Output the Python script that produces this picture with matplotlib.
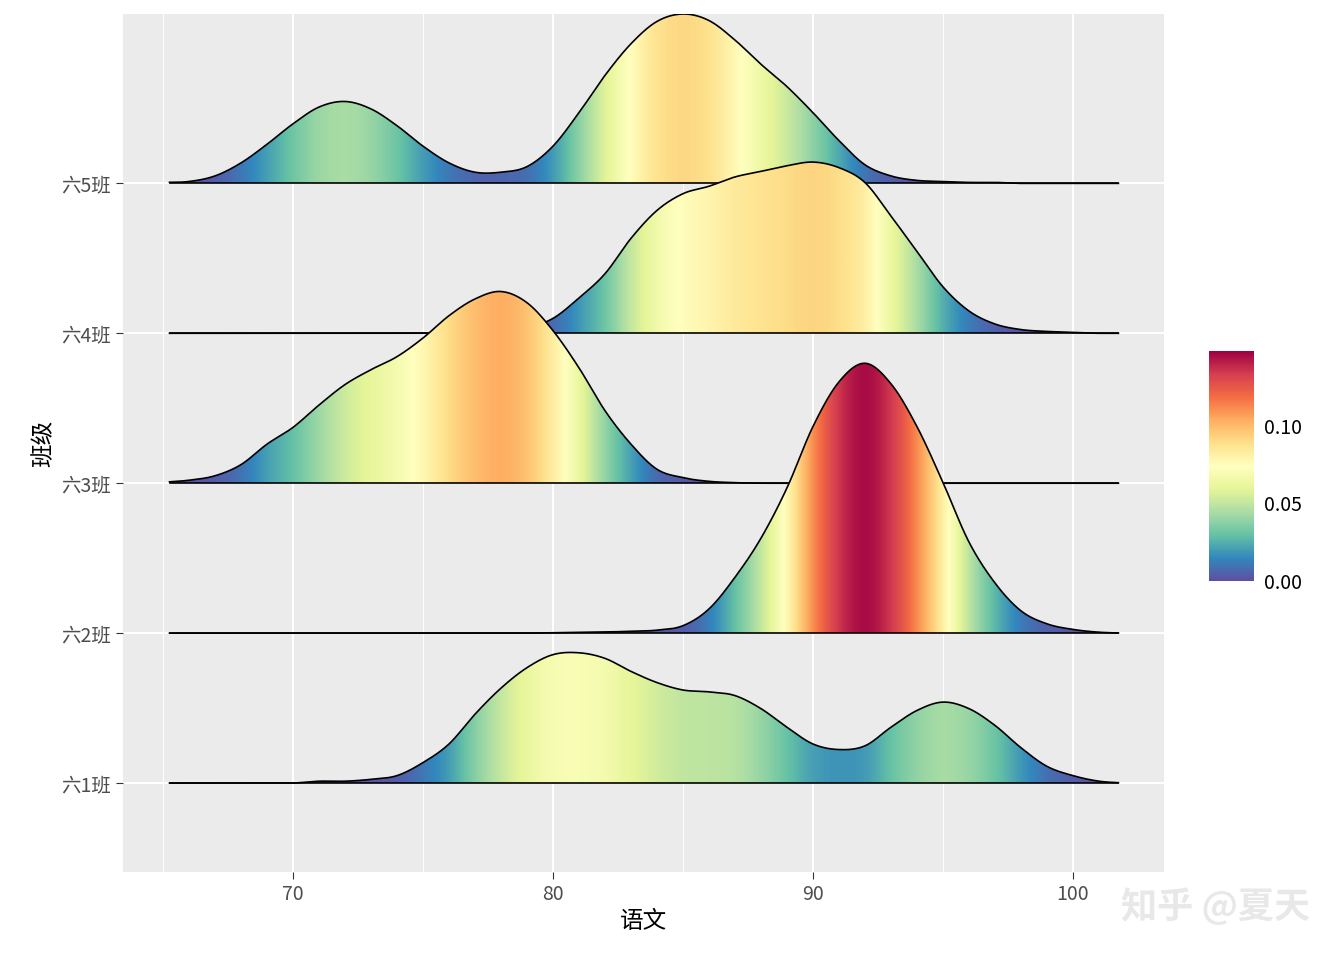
import numpy as np
import matplotlib
matplotlib.use("Agg")
import matplotlib.pyplot as plt
from matplotlib.colors import Normalize

plt.rcParams['font.family'] = ['Noto Sans CJK SC', 'DejaVu Sans']

# 语文 scores grid and density
scores = np.arange(65, 103)
classes = ['六1班', '六2班', '六3班', '六4班', '六5班']
dens_1 = [0, 0, 0, 0, 0, 0, .001, .001, .002, .004, .011, .021, .037, .051, .062, .069, .070, .067, .060,
          .054, .050, .049, .047, .040, .030, .021, .018, .020, .030, .039, .0435, .040, .031, .019, .009, .004, .001, 0]
dens_2 = [0, 0, 0, 0, 0, 0, 0, 0, 0, 0, 0, 0, 0, 0, 0, .0002, .0004, .0006, .001, .0016, .004, .013, .030, .051,
          .078, .111, .135, .145, .134, .111, .081, .049, .027, .012, .005, .002, .0005, 0]
dens_3 = [.0005, .0016, .004, .010, .021, .030, .042, .053, .061, .068, .078, .090, .099, .103, .097, .082, .062,
          .039, .021, .0075, .003, .001, .0003, 0, 0, 0, 0, 0, 0, 0, 0, 0, 0, 0, 0, 0, 0, 0]
dens_4 = [0, 0, 0, 0, 0, 0, 0, 0, 0, 0, 0, .0003, .0005, .001, .003, .008, .019, .032, .051, .066, .075, .079,
          .084, .087, .090, .092, .089, .081, .063, .044, .025, .012, .005, .002, .001, .0005, 0, 0]
dens_5 = [.0005, .001, .004, .011, .021, .032, .041, .044, .040, .031, .020, .011, .006, .006, .009, .020, .038,
          .058, .075, .087, .091, .0875, .077, .064, .052, .038, .023, .010, .004, .0016, .001, .0005, .0005,
          0, 0, 0, 0, 0]
densities = [dens_1, dens_2, dens_3, dens_4, dens_5]


def smooth(x, y, xf):
    # cubic Hermite through the read points, for a smooth outline
    m = np.gradient(y, x)
    i = np.clip(np.searchsorted(x, xf) - 1, 0, len(x) - 2)
    h = x[i + 1] - x[i]
    t = (xf - x[i]) / h
    h00 = 2 * t**3 - 3 * t**2 + 1
    h10 = t**3 - 2 * t**2 + t
    h01 = -2 * t**3 + 3 * t**2
    h11 = t**3 - t**2
    out = h00 * y[i] + h10 * h * m[i] + h01 * y[i + 1] + h11 * h * m[i + 1]
    return np.clip(out, 0, None)


scale = 1.8 / 0.145
cmap = plt.get_cmap('Spectral_r')
norm = Normalize(0, 0.148)

fig = plt.figure(figsize=(13.44, 9.6), dpi=100)
ax = fig.add_axes([0.0915, 0.0917, 0.7745, 0.8933])
ax.set_facecolor('#EBEBEB')
for s in ax.spines.values():
    s.set_visible(False)

ax.set_xticks([70, 80, 90, 100])
ax.set_xticks([65, 75, 85, 95], minor=True)
ax.set_yticks(range(1, 6))
ax.set_yticklabels(classes)
ax.grid(True, which='major', color='white', lw=1.4)
ax.grid(True, which='minor', axis='x', color='white', lw=0.7)
ax.set_axisbelow(True)
ax.tick_params(axis='both', which='major', colors='#333333', labelcolor='#4D4D4D', labelsize=14, length=5)
ax.tick_params(which='minor', length=0)

xf = np.linspace(65.25, 101.75, 2000)
# top rows first so lower rows sit in front
for i in range(4, -1, -1):
    d = np.array(densities[i], dtype=float)
    df = smooth(scores.astype(float), d, xf)
    base = i + 1
    top = base + df * scale
    z = 2 + (5 - i) * 2
    poly = ax.fill_between(xf, base, top, color='none', lw=0, zorder=z)
    img = ax.imshow(cmap(norm(df))[np.newaxis, :, :], aspect='auto', interpolation='bilinear',
                    extent=[xf[0], xf[-1], base, base + df.max() * scale + 0.05], zorder=z)
    img.set_clip_path(poly.get_paths()[0], transform=ax.transData)
    ax.plot(xf, top, color='black', lw=1.2, zorder=z + 1)
    ax.plot([xf[0], xf[-1]], [base, base], color='black', lw=1.2, zorder=z + 1)

ax.set_xlim(63.46, 103.5)
ax.set_ylim(0.407, 6.127)
ax.set_xlabel('语文', fontsize=17, color='black')
ax.set_ylabel('班级', fontsize=17, color='black')

cax = fig.add_axes([1209 / 1344, 1 - 581 / 960, 45 / 1344, 230 / 960])
sm = plt.cm.ScalarMappable(norm=norm, cmap=cmap)
cb = fig.colorbar(sm, cax=cax, ticks=[0, 0.05, 0.10])
cb.ax.set_yticklabels(['0.00', '0.05', '0.10'])
cb.outline.set_visible(False)
cb.ax.tick_params(labelsize=14, length=4, color='white', labelcolor='black')

fig.text(0.975, 0.055, '知乎 @夏天', ha='right', va='center', fontsize=26, color='#E8E8E8',
         fontweight='bold')

fig.savefig('out.png', dpi=100)
